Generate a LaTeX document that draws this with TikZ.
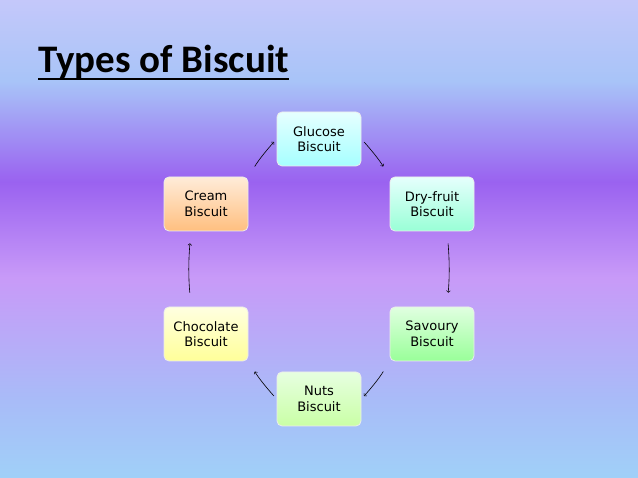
\documentclass[tikz,border=0pt]{standalone}
\usepackage{fontspec}
\setmainfont{DejaVu Sans}
\newfontfamily\titlefont{Carlito}
\definecolor{bgA}{HTML}{C4C8FA}
\definecolor{bgB}{HTML}{A8C4F8}
\definecolor{bgC}{HTML}{9A62F0}
\definecolor{bgD}{HTML}{C89AF8}
\definecolor{bgE}{HTML}{A8BCF8}
\definecolor{bgF}{HTML}{A0D0F8}
\pgfdeclareverticalshading{slidebg}{100bp}{
  color(0bp)=(bgF); color(25bp)=(bgF); color(33bp)=(bgE); color(46bp)=(bgD);
  color(56bp)=(bgC); color(66.5bp)=(bgB); color(75bp)=(bgA); color(100bp)=(bgA)}
\tikzset{
  biscuit/.style={rounded corners=5pt, minimum width=84pt, minimum height=54pt,
    align=center, font=\fontsize{13}{15.5}\selectfont, draw=white!85!gray,
    line width=0.8pt},
  flow/.style={->, >=to, line width=0.6pt, shorten >=4pt, shorten <=4pt}
}
\begin{document}
\begin{tikzpicture}[x=1pt,y=-1pt]
	\shade[shading=slidebg] (0,0) rectangle (638,478);
	\useasboundingbox (0,0) rectangle (638,478);
	
	\node[anchor=base west, inner sep=0pt, font=\titlefont\bfseries\fontsize{39}{44}\selectfont] (title) at (38,73) {Types of Biscuit};
	\draw[line width=1.8pt] ([yshift=-6pt]title.base west) -- ([yshift=-6pt]title.base east);
	
	\node[biscuit, top color=cyan!10, bottom color=cyan!35] (glucose) at (319,139) {Glucose\\Biscuit};
	\node[biscuit, top color=green!10!cyan!10, bottom color=green!40!cyan!40] (dryfruit) at (432,204) {Dry-fruit\\Biscuit};
	\node[biscuit, top color=green!12, bottom color=green!40] (savoury) at (432,334) {Savoury\\Biscuit};
	\node[biscuit, top color=yellow!20!green!12, bottom color=yellow!40!green!35] (nuts) at (319,399) {Nuts\\Biscuit};
	\node[biscuit, top color=yellow!12, bottom color=yellow!40] (chocolate) at (206,334) {Chocolate\\Biscuit};
	\node[biscuit, top color=orange!15, bottom color=orange!50] (cream) at (206,204) {Cream\\Biscuit};
	
	\draw[flow, shorten <=12pt] (cream.north east) to[bend left=5] (glucose.west);
	\draw[flow, shorten >=12pt] (glucose.east) to[bend left=5] (dryfruit.north west);
	\draw[flow, shorten <=12pt, shorten >=14pt] ([xshift=15pt]dryfruit.south) to[bend left=5] ([xshift=15pt]savoury.north);
	\draw[flow, shorten <=12pt] (savoury.south west) to[bend left=5] (nuts.east);
	\draw[flow, shorten >=12pt] (nuts.west) to[bend left=5] (chocolate.south east);
	\draw[flow, shorten <=14pt, shorten >=12pt] ([xshift=-15pt]chocolate.north) to[bend left=5] ([xshift=-15pt]cream.south);
\end{tikzpicture}
\end{document}
